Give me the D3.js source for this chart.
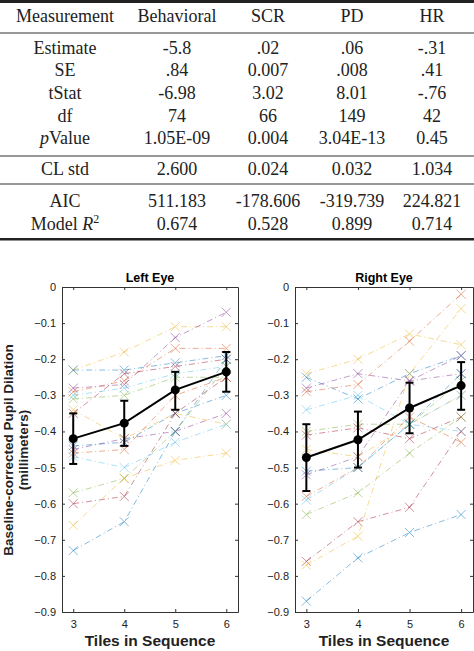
<!DOCTYPE html><html><head><meta charset="utf-8">
<script src="https://cdn.jsdelivr.net/npm/d3@7"></script>
<style>body{margin:0;background:#fff}</style></head><body><svg id="c" width="474" height="651"></svg>
<script>
const columns=["Measurement","Behavioral","SCR","PD","HR"];
const rowsA=[["Estimate","-5.8",".02",".06","-.31"],["SE",".84","0.007",".008",".41"],["tStat","-6.98","3.02","8.01","-.76"],["df","74","66","149","42"],["pValue","1.05E-09","0.004","3.04E-13","0.45"]];
const rowsB=[["CL std","2.600","0.024","0.032","1.034"]];
const rowsC=[["AIC","511.183","-178.606","-319.739","224.821"],["Model R2","0.674","0.528","0.899","0.714"]];
const tiles=[3,4,5,6];
const leftSubjects=[[-0.23,-0.18,-0.11,-0.11],[-0.23,-0.23,-0.21,-0.19],[-0.28,-0.27,-0.14,-0.07],[-0.29,-0.26,-0.17,-0.17],[-0.30,-0.28,-0.24,-0.22],[-0.31,-0.30,-0.25,-0.25],[-0.35,-0.24,-0.22,-0.20],[-0.34,-0.42,-0.35,-0.38],[-0.44,-0.43,-0.35,-0.30],[-0.45,-0.42,-0.40,-0.35],[-0.46,-0.45,-0.30,-0.25],[-0.47,-0.50,-0.43,-0.38],[-0.57,-0.53,-0.40,-0.22],[-0.60,-0.58,-0.35,-0.25],[-0.66,-0.53,-0.48,-0.46],[-0.73,-0.65,-0.40,-0.20]];
const rightSubjects=[[-0.24,-0.20,-0.13,-0.16],[-0.25,-0.31,-0.24,-0.19],[-0.28,-0.24,-0.26,-0.24],[-0.29,-0.27,-0.15,-0.02],[-0.34,-0.30,-0.38,-0.40],[-0.40,-0.38,-0.38,-0.26],[-0.41,-0.39,-0.42,-0.36],[-0.45,-0.47,-0.38,-0.30],[-0.51,-0.50,-0.38,-0.24],[-0.52,-0.47,-0.26,-0.19],[-0.58,-0.50,-0.36,-0.43],[-0.59,-0.50,-0.38,-0.30],[-0.63,-0.57,-0.46,-0.36],[-0.76,-0.65,-0.61,-0.40],[-0.77,-0.69,-0.24,-0.06],[-0.87,-0.75,-0.68,-0.63]];
const leftMean=[-0.42,-0.377,-0.285,-0.235], leftLo=[-0.49,-0.44,-0.34,-0.29], leftHi=[-0.35,-0.315,-0.235,-0.18];
const rightMean=[-0.472,-0.423,-0.335,-0.273], rightLo=[-0.565,-0.50,-0.405,-0.34], rightHi=[-0.38,-0.345,-0.265,-0.208];
const yTicks=[0,-0.1,-0.2,-0.3,-0.4,-0.5,-0.6,-0.7,-0.8,-0.9];
const colors=["#EDB120","#0072BD","#7E2F8E","#D95319","#4DBEEE","#77AC30","#A2142F"];

const svg=d3.select("#c");
const serif="'Liberation Serif','DejaVu Serif',serif";
const colX=[65,177,268,352,432];
const T=svg.append("g").attr("font-family",serif).attr("font-size",18).attr("fill","#222");
T.append("rect").attr("x",0).attr("y",0).attr("width",474).attr("height",3).attr("fill","#222");
T.append("rect").attr("x",0).attr("y",238).attr("width",474).attr("height",2.5).attr("fill","#222");
[33,156,184].forEach(y=>T.append("line").attr("x1",0).attr("x2",474).attr("y1",y).attr("y2",y).attr("stroke","#333").attr("stroke-width",1.2));
function row(cells,y){cells.forEach((c,i)=>{const t=T.append("text").attr("x",colX[i]).attr("y",y).attr("text-anchor","middle").attr("dominant-baseline","middle");
 if(c==="pValue"){t.append("tspan").attr("font-style","italic").text("p");t.append("tspan").text("Value");}
 else if(c==="Model R2"){t.append("tspan").text("Model ");t.append("tspan").attr("font-style","italic").text("R");t.append("tspan").attr("font-size",12).attr("dy",-6).text("2");}
 else t.text(c);});}
row(columns,18);
const ys=[50,72,95,118,140];
rowsA.forEach((r,i)=>row(r,ys[i]));
row(rowsB[0],171);
row(rowsC[0],203);row(rowsC[1],226);

const sans="'Liberation Sans',Arial,sans-serif";
const y=d3.scaleLinear().domain([0,-0.9]).range([287,612]);
function panel(x0,x1,title,subs,mean,lo,hi){
 const x=d3.scaleLinear().domain([2.78,6.23]).range([x0,x1]);
 const g=svg.append("g").attr("font-family",sans);
 const line=d3.line().x((d,i)=>x(tiles[i])).y(d=>y(d));
 subs.forEach((s,k)=>{const c=colors[k%colors.length];
  g.append("path").attr("d",line(s)).attr("fill","none").attr("stroke",c).attr("stroke-width",0.8).attr("stroke-dasharray","6,3,1,3").attr("opacity",0.6);
  s.forEach((v,i)=>{const cx=x(tiles[i]),cy=y(v),r=4.5;
   g.append("path").attr("d",`M${cx-r},${cy-r}L${cx+r},${cy+r}M${cx-r},${cy+r}L${cx+r},${cy-r}`).attr("stroke",c).attr("stroke-width",0.8).attr("opacity",0.6);});
 });
 tiles.forEach((t,i)=>{const cx=x(t);
  g.append("line").attr("x1",cx).attr("x2",cx).attr("y1",y(lo[i])).attr("y2",y(hi[i])).attr("stroke","#000").attr("stroke-width",2);
  [lo[i],hi[i]].forEach(v=>g.append("line").attr("x1",cx-4).attr("x2",cx+4).attr("y1",y(v)).attr("y2",y(v)).attr("stroke","#000").attr("stroke-width",2));});
 g.append("path").attr("d",line(mean)).attr("fill","none").attr("stroke","#000").attr("stroke-width",2);
 mean.forEach((v,i)=>g.append("circle").attr("cx",x(tiles[i])).attr("cy",y(v)).attr("r",4.5).attr("fill","#000"));
 const ya=g.append("g").attr("transform",`translate(${x0},0)`).call(d3.axisLeft(y).tickValues(yTicks).tickFormat(d=>d===0?"0":d3.format(".1f")(d)).tickSizeInner(-3).tickSizeOuter(0).tickPadding(6));
 const yr=g.append("g").attr("transform",`translate(${x1},0)`).call(d3.axisRight(y).tickValues(yTicks).tickFormat("").tickSizeInner(-3).tickSizeOuter(0));
 const xa=g.append("g").attr("transform",`translate(0,612)`).call(d3.axisBottom(x).tickValues(tiles).tickFormat(d3.format("d")).tickSizeInner(-3).tickSizeOuter(0).tickPadding(8));
 const xt=g.append("g").attr("transform",`translate(0,287)`).call(d3.axisTop(x).tickValues(tiles).tickFormat("").tickSizeInner(-3).tickSizeOuter(0));
 [ya,yr,xa,xt].forEach(a=>{a.selectAll("path,line").attr("stroke","#333");a.selectAll("text").attr("font-size",11).attr("fill","#222").attr("font-family",sans);});
 g.append("text").attr("x",(x0+x1)/2).attr("y",282).attr("text-anchor","middle").attr("font-weight","bold").attr("font-size",12.5).text(title);
 g.append("text").attr("x",(x0+x1)/2).attr("y",646).attr("text-anchor","middle").attr("font-weight","bold").attr("font-size",15.5).attr("fill","#222").text("Tiles in Sequence");
}
panel(62,238,"Left Eye",leftSubjects,leftMean,leftLo,leftHi);
panel(295,473,"Right Eye",rightSubjects,rightMean,rightLo,rightHi);
const yl=svg.append("text").attr("transform","translate(13,450) rotate(-90)").attr("text-anchor","middle").attr("font-family",sans).attr("font-weight","bold").attr("font-size",13.5).attr("fill","#222");
yl.append("tspan").attr("x",0).attr("dy",0).text("Baseline-corrected Pupil Dilation");
yl.append("tspan").attr("x",0).attr("dy",15).text("(millimeters)");
</script></body></html>
